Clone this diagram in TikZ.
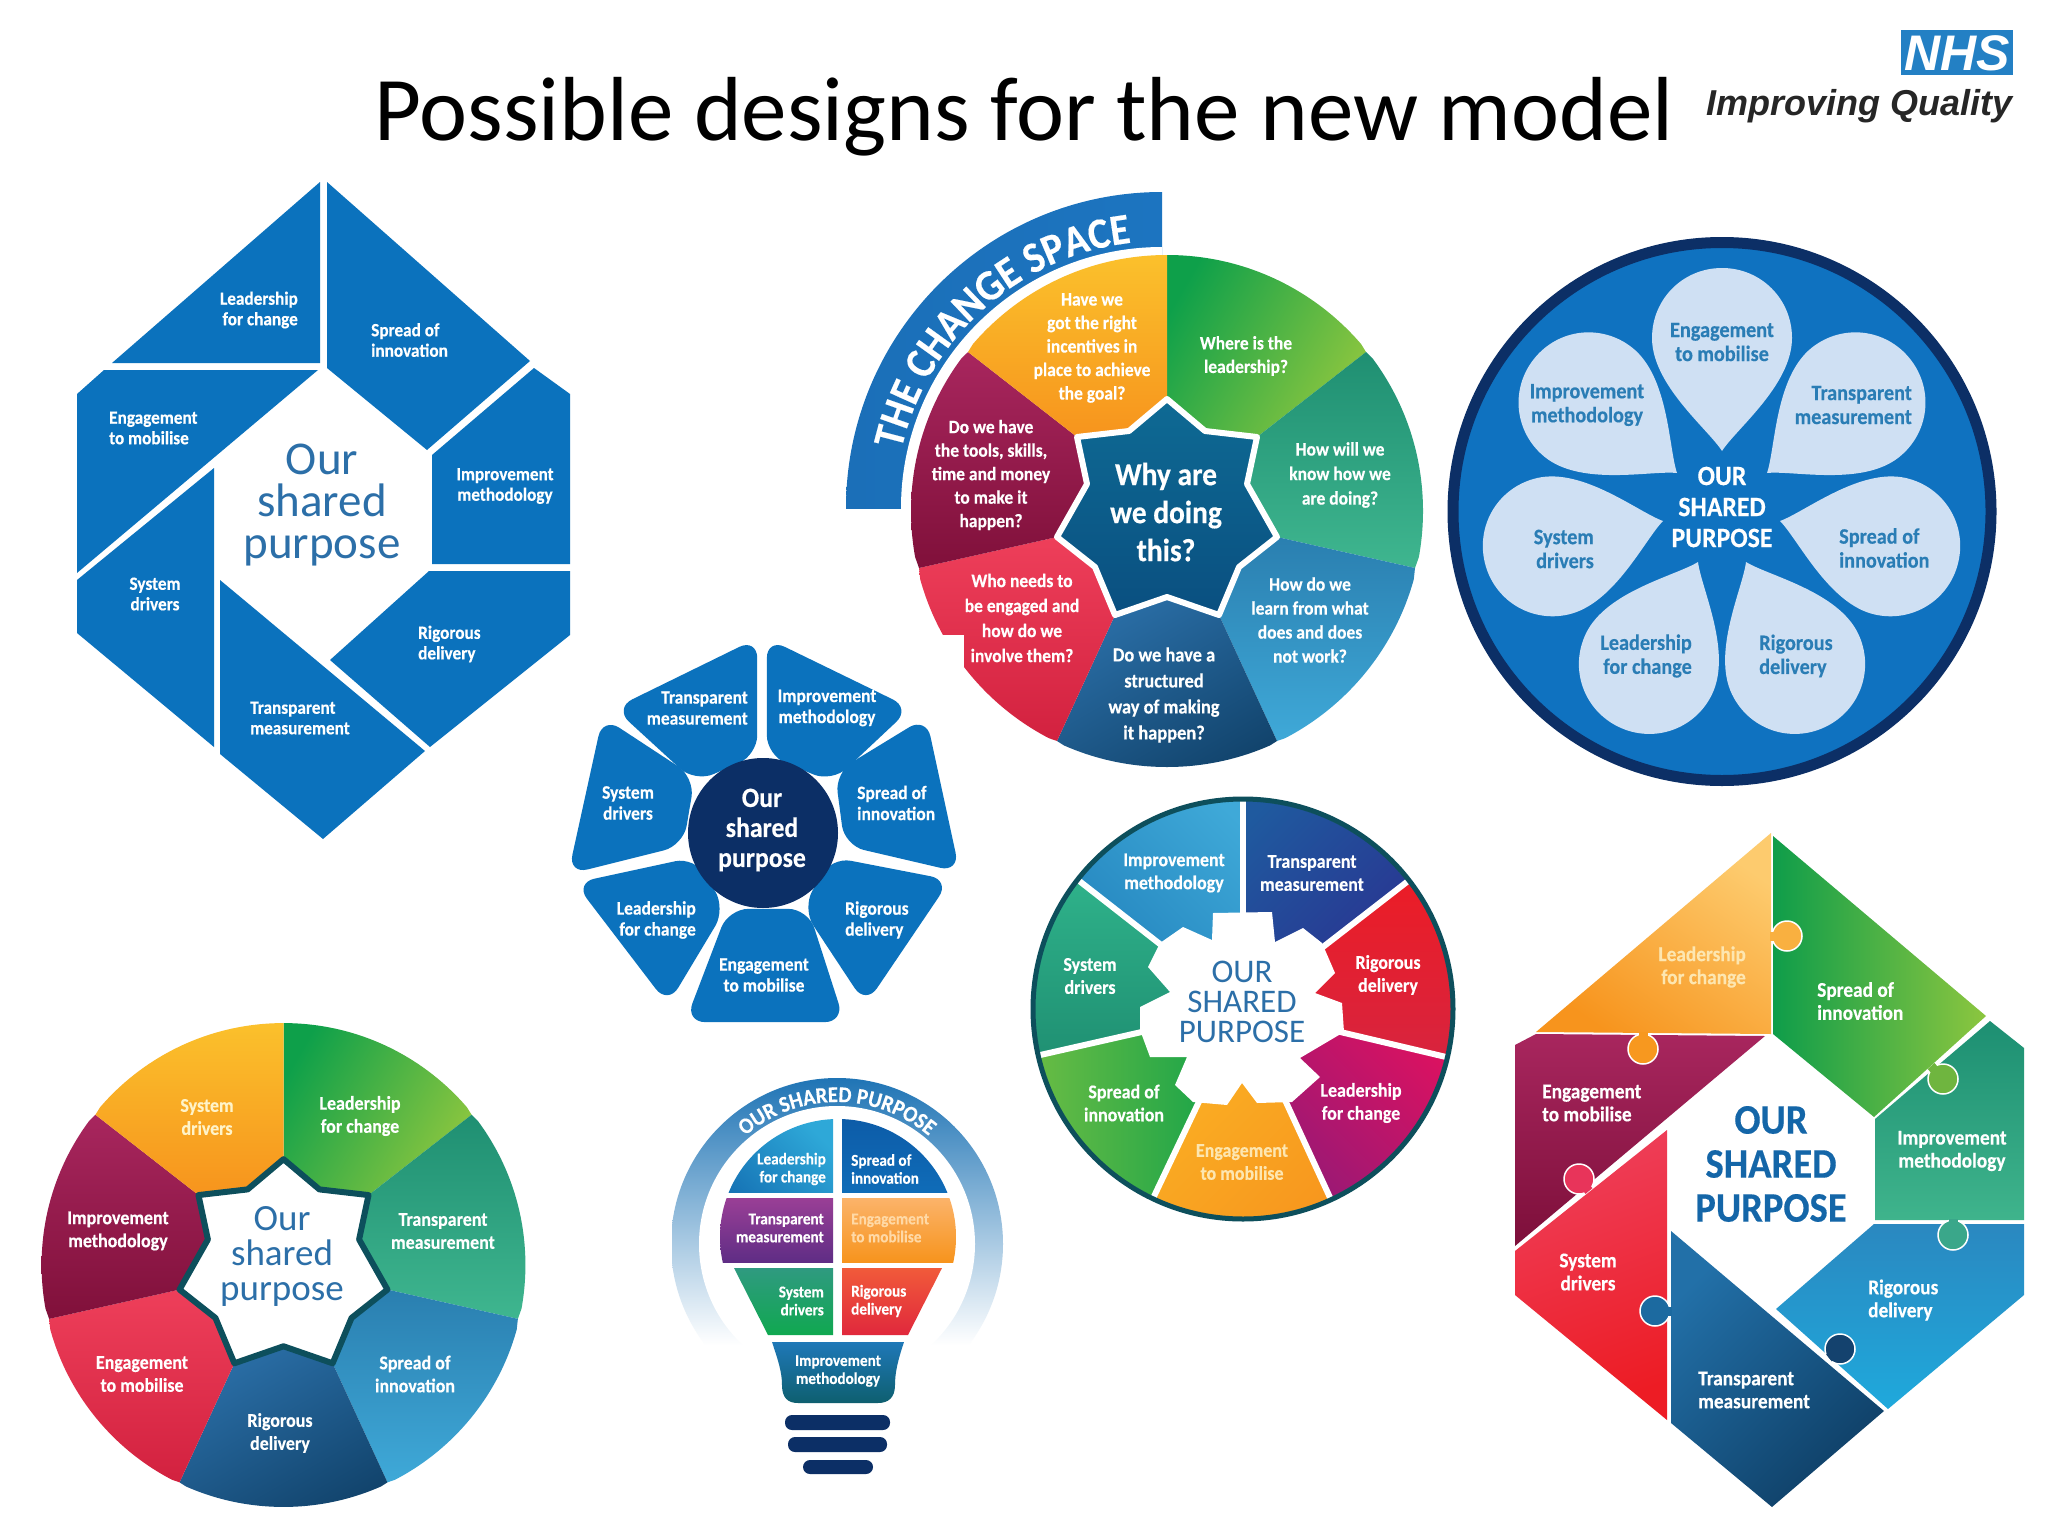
\documentclass[tikz,border=0pt]{standalone}
\usepackage{fontspec}
\usetikzlibrary{decorations.text}
\setmainfont{Carlito}
\newfontfamily\lblf[FakeStretch=0.92,BoldFeatures={FakeBold=0.35}]{Carlito}
\newfontfamily\armf{Liberation Sans}
\definecolor{hexblue}{HTML}{0B72BD}
\definecolor{dropc}{HTML}{CFE0F3}
\definecolor{dropt}{HTML}{2A7DB5}
\definecolor{discb}{HTML}{0F72C0}
\definecolor{navy}{HTML}{0C2F66}
\definecolor{midtx}{HTML}{2C6FA8}
\definecolor{darkteal}{HTML}{0D4F5C}
\makeatletter
\def\defhexes#1{\@for\hx:=#1\do{\definecolor{\hx}{HTML}{\hx}}}
\makeatother
\defhexes{1B6FB8,1E7AC8,0E6A94,0A4F80,0EA04A,8CC63F,1F8F72,3FB68F,2A7FB0,3FA9D8,2A6EA6,0F3F66,EE3F5A,D2213F,A8265E,80103A,FBC42D,F7941D,1F5A9F,2B2F8F,ED1C24,D7243F,E0115F,8E1A78,FBB325,76C043,30B58C,2080BB,FDE6B0,FDCB6E,0F9D4A,1D8F72,3FB48C,2A88C0,1FA9DC,2270A8,7D0F3A,F9B040,F7981F,6FB53F,3AA78A,14426E,1C6AA0,E8345A,1466A8,1F74B5,A9C3E5,2EA8D8,1673B5,0D5CA8,0F6CB8,9A3F96,5F2D85,FBB36A,2F9A80,10A850,F15A3A,E0283C,1F78B8,0E5F6F,FFD9A6,FFF3C8}
\tikzset{
  txt/.style 2 args={inner sep=0pt,text=white,align=center,font=\lblf\bfseries\fontsize{#1}{#2}\selectfont},
  lft/.style={anchor=west,align=left},
  rgt/.style={anchor=east,align=right},
  midt/.style 2 args={inner sep=0pt,text=midtx,align=center,font=\fontsize{#1}{#2}\selectfont},
  grad/.style n args={3}{top color=#1,bottom color=#2,shading angle=#3},
  mini/.style={fill=hexblue,rounded corners=20},
}
\newcommand\wheelpts{%
  \coordinate (T0) at (0,-112); \coordinate (N0) at (38,-80);
  \coordinate (T1) at (90,-74); \coordinate (N1) at (80,-27);
  \coordinate (T2) at (110,26); \coordinate (N2) at (72,56);
  \coordinate (T3) at (52,104); \coordinate (N3) at (0,86);
  \coordinate (T4) at (-52,104); \coordinate (N4) at (-72,56);
  \coordinate (T5) at (-110,26); \coordinate (N5) at (-80,-27);
  \coordinate (T6) at (-90,-74); \coordinate (N6) at (-38,-80);
  \coordinate (O0) at (0,-256); \coordinate (O1) at (199,-159);
  \coordinate (O2) at (248,57); \coordinate (O3) at (110,230);
  \coordinate (O4) at (-110,230); \coordinate (O5) at (-248,57);
  \coordinate (O6) at (-199,-159);
  \coordinate (F0) at (130,-270); \coordinate (F1) at (292,-67);
  \coordinate (F2) at (234,187); \coordinate (F3) at (0,300);
  \coordinate (F4) at (-234,187); \coordinate (F5) at (-292,-67);
  \coordinate (F6) at (-130,-270);}
\newcommand\wsec[5]{\shade[grad={#3}{#4}{#5}] (T#1) -- (O#1) -- (F#1) -- (O#2) -- (T#2) -- (N#1) -- cycle;}
\newcommand\wsectors{%
  \begin{scope}
  \clip (0,0) circle (256);
  \wsec{0}{1}{0EA04A}{8CC63F}{60}
  \wsec{1}{2}{1F8F72}{3FB68F}{0}
  \wsec{2}{3}{2A7FB0}{3FA9D8}{0}
  \wsec{3}{4}{2A6EA6}{0F3F66}{30}
  \wsec{4}{5}{EE3F5A}{D2213F}{0}
  \wsec{5}{6}{A8265E}{80103A}{0}
  \wsec{6}{0}{FBC42D}{F7941D}{0}
  \end{scope}}
\newcommand\starpath{(T0) -- (N0) -- (T1) -- (N1) -- (T2) -- (N2) -- (T3) -- (N3) -- (T4) -- (N4) -- (T5) -- (N5) -- (T6) -- (N6) -- cycle}
\newcommand\drop[3]{\fill[dropc,shift={(#1,#2)},rotate=#3] (0,0) .. controls (-14,-22) and (-70,-66) .. (-70,-113) .. controls (-70,-152) and (-39,-183) .. (0,-183) .. controls (39,-183) and (70,-152) .. (70,-113) .. controls (70,-66) and (14,-22) .. (0,0) -- cycle;}
\newcommand\tabc[5]{\draw[white,line width=1.5,fill=#5] (#1,#2) circle (15); \draw[#5,line width=9] (#1,#2) -- (#3,#4);}
\begin{document}
\begin{tikzpicture}[x=1pt,y=-1pt]
\fill[white] (0,0) rectangle (2048,1536);
\useasboundingbox (0,0) rectangle (2048,1536);

% title and logo
\node[inner sep=0pt,anchor=base,font=\fontsize{91}{100}\selectfont] (title) at (1024,141) {Possible designs for the new model};
\fill[hexblue!90!white] (1901,30) rectangle (2013,75);
\node[inner sep=0pt,text=white,font=\armf\bfseries\itshape\fontsize{50}{50}\selectfont] (nhs) at (1957,53) {NHS};
\node[inner sep=0pt,anchor=base east,text=black!85,font=\armf\bfseries\itshape\fontsize{36}{36}\selectfont] (iq) at (2013,116) {Improving Quality};

% --- blue hexagon ---
\fill[hexblue] (320,182) -- (320,363) -- (112,363) -- cycle;
\fill[hexblue] (327,182) -- (530,361) -- (427,450) -- (327,368) -- cycle;
\fill[hexblue] (534,368) -- (570,394) -- (570,564) -- (432,564) -- (432,455) -- cycle;
\fill[hexblue] (570,571) -- (570,635) -- (430,747) -- (330,660) -- (429,571) -- cycle;
\fill[hexblue] (220,580) -- (425,751) -- (323,839) -- (220,754) -- cycle;
\fill[hexblue] (214,468) -- (214,747) -- (77,633) -- (77,580) -- cycle;
\fill[hexblue] (318,370) -- (77,573) -- (77,394) -- (104,370) -- cycle;
\node[txt={18.7}{20.5},rgt] (h1a) at (298,310) {Leadership\\for change};
\node[txt={18.7}{20.5},lft] (h1b) at (371,340) {Spread of\\innovation};
\node[txt={18.7}{20.5}] (h1c) at (505,486) {Improvement\\methodology};
\node[txt={18.7}{20.5},lft] (h1d) at (418,644) {Rigorous\\delivery};
\node[txt={18.7}{20.5},lft] (h1e) at (250,718) {Transparent\\measurement};
\node[txt={18.7}{20.5}] (h1f) at (155,594) {System\\drivers};
\node[txt={18.7}{20.5},lft] (h1g) at (109,428) {Engagement\\to mobilise};
\node[midt={47}{42}] (h1h) at (322,505) {Our\\shared\\purpose};

% --- change space wheel ---
\begin{scope}
\clip (840,508) rectangle (1162,180);
\shade[grad={1B6FB8}{1E7AC8}{90}] (1162,508) circle (316);
\fill[white] (1162,508) circle (261);
\end{scope}
\path[decorate,decoration={text along path,text align=center,text={|\lblf\bfseries\fontsize{43.5}{43.5}\selectfont\color{white}|THE CHANGE SPACE}}]
  (896.5,480) .. controls (910.8,344) and (1025.4,241) .. (1162,241);
\begin{scope}[shift={(1167,511)}]
\wheelpts
\wsectors
\draw[white,line width=6,line join=round,grad={0E6A94}{0A4F80}{0}] \starpath;
\end{scope}
\fill[white] (930,635) rectangle (964,672);
\node[txt={19}{23.5}] (w1a) at (1092,348) {Have we\\got the right\\incentives in\\place to achieve\\the goal?};
\node[txt={19}{23.5}] (w1b) at (1246,356) {Where is the\\leadership?};
\node[txt={19}{24.5}] (w1c) at (1340,475) {How will we\\know how we\\are doing?};
\node[txt={19}{24}] (w1d) at (1310,620) {How do we\\learn from what\\does and does\\not work?};
\node[txt={20}{26}] (w1e) at (1164,695) {Do we have a\\structured\\way of making\\it happen?};
\node[txt={19}{25}] (w1f) at (1022,618) {Who needs to\\be engaged and\\how do we\\involve them?};
\node[txt={19}{23.5}] (w1g) at (991,475) {Do we have\\the tools, skills,\\time and money\\to make it\\happen?};
\node[txt={32}{38}] (w1h) at (1166,512) {Why are\\we doing\\this?};

% --- flower disc ---
\draw[fill=discb,draw=navy,line width=11] (1722,511.5) circle (269);
\drop{1722}{451}{0}
\drop{1767}{473}{-51.4}
\drop{1780}{521}{-102.9}
\drop{1746}{562}{-154.3}
\drop{1698}{562}{154.3}
\drop{1663}{521}{102.9}
\drop{1677}{473}{51.4}
\tikzset{fl/.style={txt={22}{24},text=dropt}}
\node[fl] (f1) at (1722,342) {Engagement\\to mobilise};
\node[fl,rgt] (f2) at (1912,405) {Transparent\\measurement};
\node[fl] (f3) at (1587,405) {Improvement\\methodology};
\node[fl,lft] (f4) at (1839,548) {Spread of\\innovation};
\node[fl,rgt] (f5) at (1594,549) {System\\drivers};
\node[fl,rgt] (f6) at (1692,656) {Leadership\\for change};
\node[fl,lft] (f7) at (1759,656) {Rigorous\\delivery};
\node[txt={28}{31}] (f8) at (1722,507) {OUR\\SHARED\\PURPOSE};

% --- mini flower ---
\begin{scope}[shift={(763,833)},scale=.96,shift={(-763,-833)}]
\path[mini] (757,630) -- (757,752) -- (692,780) -- (608,703) -- cycle;
\path[mini] (767,630) -- (917,703) -- (835,780) -- (767,752) -- cycle;
\path[mini] (933,712) -- (968,874) -- (848,846) -- (838,770) -- cycle;
\path[mini] (834,858) -- (958,882) -- (870,1012) -- (804,912) -- cycle;
\path[mini] (727,912) -- (810,912) -- (848,1030) -- (682,1030) -- cycle;
\path[mini] (567,885) -- (692,858) -- (724,912) -- (664,1012) -- cycle;
\path[mini] (596,712) -- (692,775) -- (680,846) -- (560,876) -- cycle;
\end{scope}
\fill[navy] (763,833) circle (75);
\node[txt={19}{21},rgt] (m1) at (748,708) {Transparent\\measurement};
\node[txt={19}{21}] (m2) at (827,708) {Improvement\\methodology};
\node[txt={19}{21},lft] (m3) at (857,803) {Spread of\\innovation};
\node[txt={19}{21}] (m4) at (628,803) {System\\drivers};
\node[txt={19}{21},rgt] (m5) at (696,920) {Leadership\\for change};
\node[txt={19}{21},lft] (m6) at (845,920) {Rigorous\\delivery};
\node[txt={19}{21}] (m7) at (764,975) {Engagement\\to mobilise};
\node[txt={28}{30}] (m8) at (762,830) {Our\\shared\\purpose};

% --- gear wheel ---
\coordinate (GC) at (1243,1009);
\coordinate (G0) at (1243,780);
\coordinate (G1) at (1430,864);
\coordinate (G2) at (1480,1065);
\coordinate (G3) at (1345,1230);
\coordinate (G4) at (1138,1230);
\coordinate (G5) at (1005,1063);
\coordinate (G6) at (1055,862);
\begin{scope}
\clip (GC) circle (208);
\shade[grad={1F5A9F}{2B2F8F}{45}] (GC) -- (G0) -- (1340,760) -- (G1) -- cycle;
\shade[grad={ED1C24}{D7243F}{0}] (GC) -- (G1) -- (1500,950) -- (G2) -- cycle;
\shade[grad={E0115F}{8E1A78}{-45}] (GC) -- (G2) -- (1450,1180) -- (G3) -- cycle;
\shade[grad={FBB325}{F7941D}{45}] (GC) -- (G3) -- (1243,1280) -- (G4) -- cycle;
\shade[grad={76C043}{0EA04A}{90}] (GC) -- (G4) -- (1030,1180) -- (G5) -- cycle;
\shade[grad={30B58C}{1F8F72}{0}] (GC) -- (G5) -- (985,950) -- (G6) -- cycle;
\shade[grad={3FA9D8}{2080BB}{-45}] (GC) -- (G6) -- (1140,760) -- (G0) -- cycle;
\foreach \g in {G0,G1,G2,G3,G4,G5,G6} {\draw[white,line width=6] (GC) -- (\g);}
\end{scope}
\draw[darkteal,line width=5] (GC) circle (210);
\fill[white] (1213,913) -- (1272,912) -- (1275,942) -- (1303,928) -- (1322,943) -- (1335,973) -- (1315,993) -- (1342,1003) -- (1344,1032) -- (1300,1058) -- (1320,1077) -- (1292,1102) -- (1257,1103) -- (1242,1083) -- (1227,1105) -- (1193,1102) -- (1175,1085) -- (1187,1057) -- (1150,1057) -- (1140,1030) -- (1140,1007) -- (1170,992) -- (1148,967) -- (1160,943) -- (1183,927) -- (1212,940) -- cycle;
\node[txt={19.5}{23}] (g1) at (1174,873) {Improvement\\methodology};
\node[txt={19.5}{23}] (g2) at (1312,873) {Transparent\\measurement};
\node[txt={19.5}{23}] (g3) at (1388,975) {Rigorous\\delivery};
\node[txt={19.5}{23}] (g4) at (1090,976) {System\\drivers};
\node[txt={19.5}{23}] (g5) at (1124,1103) {Spread of\\innovation};
\node[txt={19.5}{23}] (g6) at (1361,1103) {Leadership\\for change};
\node[txt={19.5}{23},text=FDE6B0] (g7) at (1242,1162) {Engagement\\to mobilise};
\node[midt={33}{30}] (g8) at (1242,1002) {OUR\\SHARED\\PURPOSE};

% --- puzzle hexagon ---
\shade[grad={FDCB6E}{F7941D}{-35}] (1771,833) -- (1771,1034) -- (1536,1032) -- cycle;
\shade[grad={0F9D4A}{8CC63F}{90}] (1773,836) -- (1986,1016) -- (1874,1117) -- (1773,1034) -- cycle;
\shade[grad={1D8F72}{3FB48C}{0}] (1990,1021) -- (2024,1048) -- (2024,1220) -- (1875,1220) -- (1875,1119) -- cycle;
\shade[grad={2A88C0}{1FA9DC}{0}] (2024,1224) -- (2024,1295) -- (1888,1409) -- (1776,1309) -- (1874,1224) -- cycle;
\shade[grad={2270A8}{0F3F66}{45}] (1671,1231) -- (1884,1411) -- (1772,1507) -- (1671,1423) -- cycle;
\shade[grad={EE3F5A}{ED1C24}{20}] (1667,1130) -- (1667,1420) -- (1515,1295) -- (1515,1251) -- cycle;
\shade[grad={A8265E}{7D0F3A}{0}] (1765,1036) -- (1515,1246) -- (1515,1045) -- (1536,1034) -- cycle;
\tabc{1787}{936}{1770}{936}{F9B040}
\tabc{1643}{1049}{1643}{1032}{F7981F}
\tabc{1943}{1079}{1931}{1066}{6FB53F}
\tabc{1953}{1235}{1953}{1219}{3AA78A}
\tabc{1840}{1349}{1829}{1358}{14426E}
\tabc{1655}{1311}{1672}{1311}{1C6AA0}
\tabc{1579}{1179}{1589}{1191}{E8345A}
\node[txt={21}{23},rgt,text=FDE6B0] (p1) at (1746,967) {Leadership\\for change};
\node[txt={21}{23},lft] (p2) at (1817,1001) {Spread of\\innovation};
\node[txt={21}{23}] (p3) at (1952,1151) {Improvement\\methodology};
\node[txt={21}{23},lft] (p4) at (1868,1300) {Rigorous\\delivery};
\node[txt={21}{23},lft] (p5) at (1698,1390) {Transparent\\measurement};
\node[txt={21}{23}] (p6) at (1588,1272) {System\\drivers};
\node[txt={21}{23},lft] (p7) at (1542,1103) {Engagement\\to mobilise};
\node[txt={42}{44},text=1466A8] (p8) at (1771,1164) {OUR\\SHARED\\PURPOSE};

% --- bulb ---
\begin{scope}
\clip (837,1244) circle (166);
\shade[top color=1F74B5,middle color=A9C3E5,bottom color=white] (672,1078) rectangle (1003,1345);
\end{scope}
\fill[white] (837,1244) circle (138);
\path[decorate,decoration={text along path,text align=center,text={|\lblf\bfseries\fontsize{22.5}{22.5}\selectfont\color{white}|OUR SHARED PURPOSE}}]
  (695,1244) .. controls (695,1166) and (759,1102) .. (837,1102) .. controls (915,1102) and (979,1166) .. (979,1244);
\begin{scope}
\clip (838,1237) circle (118);
\shade[grad={2EA8D8}{1673B5}{-45}] (700,1119) rectangle (833,1192);
\shade[grad={0D5CA8}{0F6CB8}{0}] (842,1119) rectangle (975,1192);
\shade[grad={9A3F96}{5F2D85}{0}] (700,1198) rectangle (833,1262);
\shade[grad={FBB36A}{F7941D}{0}] (842,1198) rectangle (975,1262);
\end{scope}
\shade[grad={2F9A80}{10A850}{0}] (734,1268) -- (833,1268) -- (833,1335) -- (768,1335) -- cycle;
\shade[grad={F15A3A}{E0283C}{0}] (842,1268) -- (942,1268) -- (908,1335) -- (842,1335) -- cycle;
\shade[grad={1F78B8}{0E5F6F}{0}] (772,1342) -- (904,1342) .. controls (898,1360) and (895,1372) .. (895,1385) .. controls (895,1398) and (888,1403) .. (878,1403) -- (798,1403) .. controls (788,1403) and (782,1398) .. (782,1385) .. controls (782,1372) and (778,1360) .. (772,1342) -- cycle;
\fill[navy,rounded corners=7] (785,1415) rectangle (890,1430);
\fill[navy,rounded corners=7] (788,1437) rectangle (887,1452);
\fill[navy,rounded corners=7] (803,1460) rectangle (873,1474);
\node[txt={16.5}{18},rgt] (b1) at (826,1169) {Leadership\\for change};
\node[txt={16.5}{18},lft] (b2) at (851,1169) {Spread of\\innovation};
\node[txt={16.5}{18},rgt] (b3) at (824,1228) {Transparent\\measurement};
\node[txt={16.5}{18},lft,text=FFD9A6] (b4) at (851,1228) {Engagement\\to mobilise};
\node[txt={16.5}{18},rgt] (b5) at (824,1301) {System\\drivers};
\node[txt={16.5}{18},lft] (b6) at (851,1301) {Rigorous\\delivery};
\node[txt={16.5}{18}] (b7) at (838,1371) {Improvement\\methodology};

% --- lower-left wheel ---
\begin{scope}[shift={(283.5,1265)},scale=0.945]
\wheelpts
\wsectors
\draw[darkteal,fill=white,line width=6,line join=round] \starpath;
\end{scope}
\node[txt={19.5}{23},text=FFF3C8] (z1) at (207,1117) {System\\drivers};
\node[txt={19.5}{23}] (z2) at (360,1116) {Leadership\\for change};
\node[txt={19.5}{23}] (z3) at (443,1231) {Transparent\\measurement};
\node[txt={19.5}{23}] (z4) at (118,1231) {Improvement\\methodology};
\node[txt={19.5}{23}] (z5) at (142,1374) {Engagement\\to mobilise};
\node[txt={19.5}{23}] (z6) at (415,1374) {Spread of\\innovation};
\node[txt={19.5}{23}] (z7) at (280,1433) {Rigorous\\delivery};
\node[midt={37}{35}] (z8) at (282,1256) {Our\\shared\\purpose};
\end{tikzpicture}
\end{document}
